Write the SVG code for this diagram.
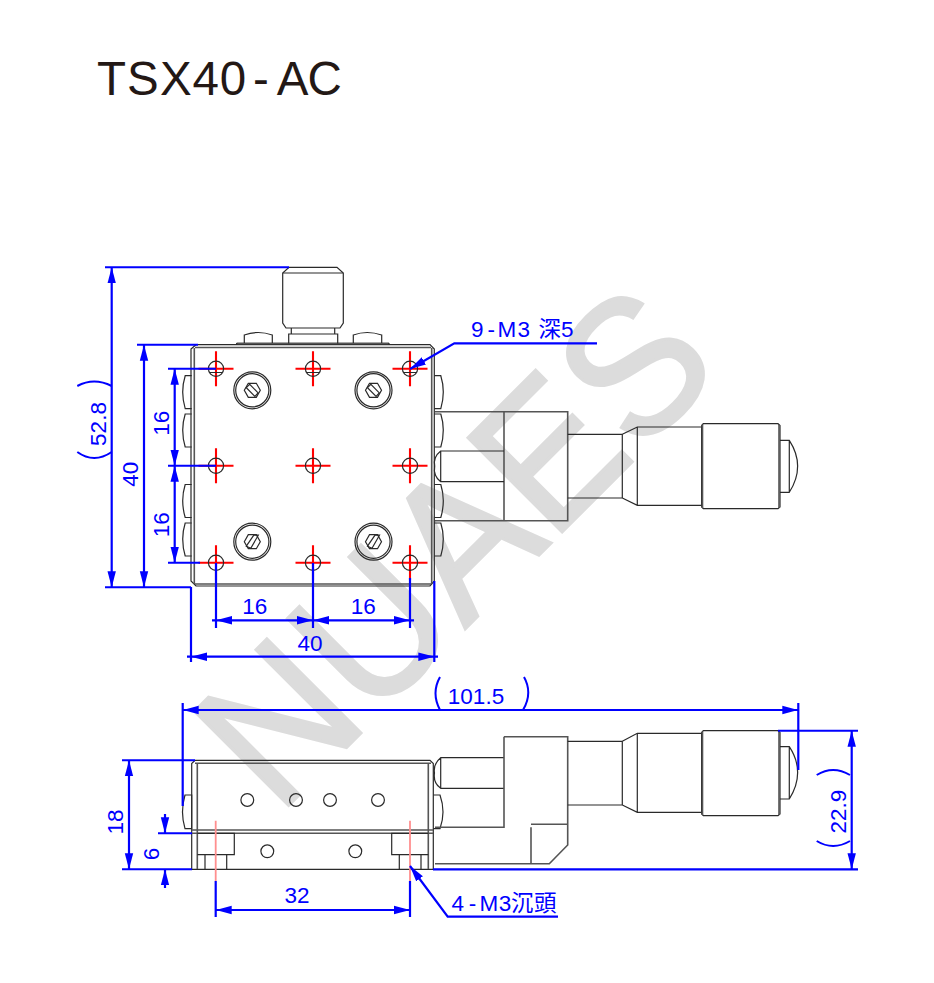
<svg xmlns="http://www.w3.org/2000/svg" xmlns:xlink="http://www.w3.org/1999/xlink" width="934" height="983" viewBox="0 0 934 983">
<style>
.wm{font-family:"Liberation Sans",sans-serif;font-size:186px;fill:#dcdcdc;stroke:#dcdcdc;stroke-width:3px}
.k{fill:none;stroke:#2a2a2a;stroke-width:1.2}
.g{fill:none;stroke:#555;stroke-width:1.6}
.r{fill:none;stroke:#f00;stroke-width:2.1}
.p{fill:none;stroke:#ff8f8f;stroke-width:1.8}
.b{fill:none;stroke:#0000ff;stroke-width:2}
.bb{fill:none;stroke:#0000ff;stroke-width:2.2}
.d{fill:none;stroke:#0000ff;stroke-width:2.2;marker-start:url(#ar);marker-end:url(#ar)}
.e{fill:none;stroke:#0000ff;stroke-width:2.2;marker-end:url(#ar)}
.s{fill:none;stroke:#0000ff;stroke-width:2.2;marker-start:url(#ar)}
.t{font-family:"Liberation Sans","Noto Sans CJK TC",sans-serif;font-size:22.5px;fill:#0000ff;text-anchor:middle}
.l{text-anchor:start}
.title{font-family:"Liberation Sans",sans-serif;font-size:47.5px;fill:#231815}
</style>
<defs>
<marker id="ar" viewBox="-16 -5 16 10" refX="0" refY="0" markerWidth="16" markerHeight="10" markerUnits="userSpaceOnUse" orient="auto-start-reverse"><path d="M-16,-4.2 L0,0 L-16,4.2Z" fill="#0000ff"/></marker>
<g id="hole"><path class="r" d="M-17.5,0H17.5M0,-17.5V17.5"/><circle class="k" r="7.6"/></g>
<g id="capA"><circle class="k" r="18.5"/><circle class="k" r="16.6"/><path class="k" d="M-8,0L-4,-7L4,-7L8,0L4,7L-4,7Z"/><path class="k" d="M-6,-2.6L-2.6,-6L5.8,2.6L2.6,6Z"/></g>
<g id="capB"><circle class="k" r="18.5"/><circle class="k" r="16.6"/><path class="k" d="M-8,0L-4,-7L4,-7L8,0L4,7L-4,7Z"/><path class="k" d="M-6,4.5L1.5,-6.5H6L-1.5,6.5Z"/></g>
<path id="scrR" class="k" d="M0,0H6.5Q11.5,16 6.5,33H0"/>
<path id="scrL" class="k" d="M0,0H-6.5Q-11.5,16 -6.5,33H0"/>
</defs>
<rect width="934" height="983" fill="#fff"/>

<g id="watermark">
<text class="wm" transform="translate(278,816) rotate(-45) scale(0.985,1.04)">NUAES</text>
</g>

<g id="title"><text class="title" x="97 127 160 192.5 219.7 253 276.7 307.5" y="95">TSX40-AC</text></g>

<g id="top-view">
<path class="k" d="M196,344.7H430L434.3,349V581L430,586H196L191,581V349Z"/>
<path class="g" d="M194.3,348V584M431.7,348V584M195,347.5H431M195,584H431"/>
<path class="g" d="M236.7,343.4H389"/>
<path class="k" d="M236.7,344.7V343M389,344.7V343M244.3,343V335Q258,330 272.3,335V343M353.3,343V335Q367,330 381.7,335V343"/>
<path class="k" d="M288.7,343.5V334H337.7V343.5M291.3,334V328M334.7,334V328"/>
<path class="k" d="M289,267.3H337L343.3,273V323L340,328H286L282.7,323V273Z"/>
<path class="k" d="M283,273H343"/>
<use xlink:href="#scrL" href="#scrL" x="191.7" y="375.7"/><use xlink:href="#scrL" href="#scrL" x="191.7" y="414"/><use xlink:href="#scrL" href="#scrL" x="191.7" y="484.5"/><use xlink:href="#scrL" href="#scrL" x="191.7" y="523"/>
<use xlink:href="#scrR" href="#scrR" x="434.3" y="375.7"/><use xlink:href="#scrR" href="#scrR" x="434.3" y="414"/><use xlink:href="#scrR" href="#scrR" x="434.3" y="484.5"/><use xlink:href="#scrR" href="#scrR" x="434.3" y="523"/>
<use xlink:href="#capA" href="#capA" x="252.3" y="390.3"/><use xlink:href="#capA" href="#capA" x="373.5" y="390.3"/>
<use xlink:href="#capB" href="#capB" x="252.3" y="541.7"/><use xlink:href="#capB" href="#capB" x="373.5" y="541.7"/>
<use xlink:href="#hole" href="#hole" x="216" y="368.7"/><use xlink:href="#hole" href="#hole" x="313" y="368.7"/><use xlink:href="#hole" href="#hole" x="410" y="368.7"/>
<use xlink:href="#hole" href="#hole" x="216" y="465.7"/><use xlink:href="#hole" href="#hole" x="313" y="465.7"/><use xlink:href="#hole" href="#hole" x="410" y="465.7"/>
<use xlink:href="#hole" href="#hole" x="216" y="562.7"/><use xlink:href="#hole" href="#hole" x="313" y="562.7"/><use xlink:href="#hole" href="#hole" x="410" y="562.7"/>
<path class="k" d="M209,372.5H223M306,372.5H320M403,372.5H417"/>
</g>

<g id="top-micrometer">
<path class="g" d="M435,411.7H567.7V520.7H435M504,411.7V520.7"/>
<path class="k" d="M504,451H440.7Q433,457 434.7,466Q433,476 440.7,481.7H504M440.7,451V481.7"/>
<path class="k" d="M567.7,434.3H622.3V498H567.7M622.3,434.3L637.3,427H701.7V505.3H637.3L622.3,498M637.3,427V505.3"/>
<path class="k" d="M703.3,423.7H778L780,425.5V507L778,508.7H703.3L701.7,507V425.5Z"/>
<path class="g" d="M702.5,424.5V508M779,424.5V508"/>
<path class="k" d="M780,440.3H789.3Q806,466 789.3,492.3H780M789.3,440.3V492.3"/>
</g>

<g id="side-view">
<path class="k" d="M195,760.3H430L433.3,763.5V869.3H191.7V763.5Z"/>
<path class="g" d="M197.3,763V869M428.3,763V869M195,763.3H431M192,830H433M192,833.3H433"/>
<path class="k" d="M185,795H191.7V828.7H185Q180,812 185,795Z"/>
<path class="k" d="M433.3,795H440Q446,812 440,828.7H433.3"/>
<path class="k" d="M197.3,833.3H234.3V854.7H197.3M205,854.7V869.3M226.7,854.7V869.3"/>
<path class="k" d="M428.3,833.3H391.7V854.7H428.3M399.3,854.7V869.3M421,854.7V869.3"/>
<circle class="k" cx="247.3" cy="800" r="6.4"/><circle class="k" cx="296" cy="800" r="6.4"/><circle class="k" cx="330" cy="800" r="6.4"/><circle class="k" cx="378" cy="800" r="6.4"/>
<circle class="k" cx="267.3" cy="851.3" r="6.4"/><circle class="k" cx="355.3" cy="851.3" r="6.4"/>
<path class="p" d="M215.7,820.7V881M410,820.7V881"/>
</g>

<g id="side-micrometer">
<path class="k" d="M504,757.7H440.7Q433,764 434.5,773Q433,783 440.7,788.3H504M440.7,757.7V788.3"/>
<path class="g" d="M504,736.7H567.7V845L549.3,863.7H435M504,736.7V827.3H435M531,827.3V863.7M531,824.3H567.7"/>
<path class="k" d="M567.7,741.3H622.3V805H567.7M622.3,741.3L637.3,733.3H701.7V812.3H637.3L622.3,805M637.3,733.3V812.3"/>
<path class="k" d="M703.3,730.7H778L780,732.5V814L778,815.7H703.3L701.7,814V732.5Z"/>
<path class="g" d="M702.5,731.5V815M779,731.5V815"/>
<path class="k" d="M780,746.7H789.3Q806,772 789.3,799H780M789.3,746.7V799"/>
</g>

<g id="connectors">
<path class="b" d="M105,267.3H289M105,587.3H191M137,344.7H198M168,368.7H216M168,465.7H216M168,562.7H200"/>
<path class="d" d="M111.7,267.3V587.3"/>
<path class="d" d="M144,344.7V587.3"/>
<path class="d" d="M174.7,368.7V465.7"/>
<path class="d" d="M174.7,465.7V562.7"/>
<path class="bb" d="M216,563V628M313,563V628M410,578V628M191,587V662M434.3,581V662"/>
<path class="d" d="M216,620.3H313"/>
<path class="d" d="M313,620.3H410"/>
<path class="bb" d="M212,620.3H216M410,620.3H414M187,656.7H191M434.3,656.7H438"/>
<path class="d" d="M191,656.7H434.3"/>
<path class="s" d="M410,369L454.3,343.3H597"/>
<path class="b" d="M77.3,386Q94,377 111.7,386M77.3,452Q94,464 111.7,452"/>
<path class="bb" d="M182.7,703V806M798.3,703V770"/>
<path class="d" d="M182.7,710H798.3"/>
<path class="b" d="M440,677Q431,693 440,710M524,677Q533,693 523,710"/>
<path class="b" d="M122,760.3H195M122,869.3H192M158,833.3H192M778,730.7H858"/>
<path class="bb" d="M433,869.3H858"/>
<path class="d" d="M129,760.3V869.3"/>
<path class="e" d="M165,814V833.3"/>
<path class="e" d="M165,888V869.3"/>
<path class="d" d="M851.7,730.7V869.3"/>
<path class="b" d="M816.7,775Q833,765 850,775M816.7,841Q833,851 850,841"/>
<path class="bb" d="M215.7,881V917M410,881V917"/>
<path class="d" d="M215.7,910H410"/>
<path class="s" d="M410,866L447.7,916.7H558"/>
</g>

<g id="labels">
<text class="t" x="254.7" y="614">16</text>
<text class="t" x="363.3" y="614">16</text>
<text class="t" x="310" y="650.7">40</text>
<text class="t" transform="translate(169.3,423.3) rotate(-90)">16</text>
<text class="t" transform="translate(169.3,524.7) rotate(-90)">16</text>
<text class="t" transform="translate(138.3,474.3) rotate(-90)">40</text>
<text class="t" transform="translate(106,424) rotate(-90)">52.8</text>
<text class="t" x="476" y="704">101.5</text>
<text class="t" transform="translate(846,811.7) rotate(-90)">22.9</text>
<text class="t" transform="translate(123.3,822) rotate(-90)">18</text>
<text class="t" transform="translate(159.3,854) rotate(-90)">6</text>
<text class="t" x="297" y="903.3">32</text>
<text class="t l" x="471 487.4 497.5 517.5 532 538.5 561" y="337.3">9-M3 深5</text>
<text class="t l" x="451.5 468.7 479.5 498.7 511 534" y="910.7">4-M3沉頭</text>
</g>
</svg>
